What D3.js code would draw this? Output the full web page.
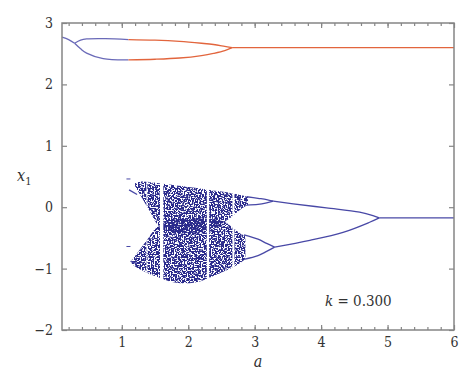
<!DOCTYPE html>
<html>
<head>
<meta charset="utf-8">
<script src="https://cdn.jsdelivr.net/npm/d3@7"></script>
<style>
  body { margin: 0; background: #fff; }
  text { font-stretch: condensed; }
</style>
</head>
<body>
<svg id="chart" width="474" height="383"></svg>
<script>
// axis ticks
const aTicks = [1, 2, 3, 4, 5, 6];
const xTicks = [-2, -1, 0, 1, 2, 3];

// upper attractor (a, x1)
const upperStem = [[0.10, 2.77], [0.20, 2.73], [0.29, 2.67]];
const upperBlueHi = [[0.29, 2.67], [0.38, 2.72], [0.47, 2.74], [0.75, 2.745], [1.10, 2.73]];
const upperBlueLo = [[0.29, 2.67], [0.38, 2.58], [0.47, 2.51], [0.72, 2.42], [1.10, 2.40]];
const upperRedHi = [[1.10, 2.73], [1.50, 2.72], [1.87, 2.70], [2.20, 2.67], [2.38, 2.65], [2.55, 2.62], [2.66, 2.60]];
const upperRedLo = [[1.10, 2.40], [1.50, 2.41], [1.87, 2.43], [2.20, 2.47], [2.38, 2.505], [2.55, 2.55], [2.66, 2.60]];
const upperFlat = [[2.66, 2.60], [6.0, 2.60]];

// lower attractor: period-doubling branches
const lowP1 = [[4.875, -0.174], [6.0, -0.174]];
const lowP2Hi = [[3.28, 0.098], [3.58, 0.054], [4.08, -0.011], [4.58, -0.08], [4.78, -0.136], [4.875, -0.174]];
const lowP2Lo = [[3.30, -0.65], [3.83, -0.54], [4.33, -0.41], [4.73, -0.245], [4.875, -0.174]];
const lowP4a = [[2.88, 0.17], [3.05, 0.145], [3.18, 0.125], [3.28, 0.098]];
const lowP4b = [[2.88, 0.035], [3.05, 0.045], [3.18, 0.07], [3.28, 0.098]];
const lowP4c = [[2.84, -0.45], [3.05, -0.52], [3.18, -0.59], [3.30, -0.65]];
const lowP4d = [[2.84, -0.85], [3.05, -0.79], [3.18, -0.72], [3.30, -0.65]];
const entryHi = [[1.11, 0.283], [1.23, 0.207]];
const entryLo = [[1.13, -0.88], [1.23, -0.924]];
const dashes = [[1.07, 1.13, 0.46], [1.07, 1.13, -0.64]];

// chaotic bands: [a, top, bottom]
const upperBand = [
  [1.20, 0.40, 0.34], [1.30, 0.42, 0.16], [1.42, 0.41, -0.06], [1.55, 0.39, -0.30],
  [1.70, 0.37, -0.40], [1.90, 0.345, -0.43], [2.10, 0.315, -0.41], [2.30, 0.285, -0.36],
  [2.50, 0.255, -0.27], [2.65, 0.23, -0.16], [2.78, 0.20, -0.04], [2.90, 0.17, 0.04]
];
const lowerBand = [
  [1.15, -0.86, -0.92], [1.25, -0.72, -1.00], [1.40, -0.50, -1.08], [1.55, -0.30, -1.14],
  [1.70, -0.22, -1.20], [1.95, -0.18, -1.24], [2.20, -0.18, -1.20], [2.40, -0.20, -1.11],
  [2.55, -0.24, -1.04], [2.70, -0.36, -0.96], [2.80, -0.44, -0.90], [2.86, -0.46, -0.84]
];
// periodic windows (white gaps)
const windows = [[1.37, 1.385], [1.575, 1.625], [2.28, 2.315], [2.665, 2.695]];

const W = 474, H = 383;
const margin = {left: 62, right: 20, top: 23, bottom: 53};
const serif = "DejaVu Serif Condensed, DejaVu Serif, serif";
const svg = d3.select("#chart");
const x = d3.scaleLinear().domain([0.1, 6]).range([margin.left, W - margin.right]);
const y = d3.scaleLinear().domain([-2, 3]).range([H - margin.bottom, margin.top]);

const blue = "#4848a6", lightBlue = "#6a6ab8", red = "#e2653d", navy = "#2a2a8c";

// speckle filters to mimic scattered points
const defs = svg.append("defs");
function speckle(id, seed) {
  const f = defs.append("filter").attr("id", id).attr("x", "-5%").attr("y", "-5%").attr("width", "110%").attr("height", "110%");
  f.append("feTurbulence").attr("type", "fractalNoise").attr("baseFrequency", 0.7)
    .attr("numOctaves", 1).attr("seed", seed).attr("result", "n");
  f.append("feColorMatrix").attr("in", "n").attr("type", "matrix")
    .attr("values", "0 0 0 0 0  0 0 0 0 0  0 0 0 0 0  14 0 0 0 -6.0").attr("result", "m");
  f.append("feComposite").attr("in", "SourceGraphic").attr("in2", "m").attr("operator", "in");
}
speckle("sp1", 3);
speckle("sp2", 11);

const line = d3.line().x(d => x(d[0])).y(d => y(d[1])).curve(d3.curveCatmullRom);
const area = d3.area().x(d => x(d[0])).y0(d => y(d[2])).y1(d => y(d[1])).curve(d3.curveCatmullRom);

const plot = svg.append("g");

// chaotic bands
const chaos = plot.append("g");
chaos.append("path").datum(upperBand).attr("d", area).attr("fill", navy).attr("filter", "url(#sp1)");
chaos.append("path").datum(lowerBand).attr("d", area).attr("fill", navy).attr("filter", "url(#sp2)");
chaos.selectAll("rect.win").data(windows).enter().append("rect")
  .attr("class", "win")
  .attr("x", d => x(d[0])).attr("width", d => x(d[1]) - x(d[0]))
  .attr("y", y(0.45)).attr("height", y(-1.27) - y(0.45))
  .attr("fill", "#fff");

// branches
const branches = [
  [upperStem, lightBlue], [upperBlueHi, lightBlue], [upperBlueLo, lightBlue],
  [upperRedHi, red], [upperRedLo, red], [upperFlat, red],
  [lowP1, blue], [lowP2Hi, blue], [lowP2Lo, blue],
  [lowP4a, blue], [lowP4b, blue], [lowP4c, blue], [lowP4d, blue],
  [entryHi, blue], [entryLo, blue]
];
plot.selectAll("path.br").data(branches).enter().append("path")
  .attr("class", "br")
  .attr("d", d => line(d[0]))
  .attr("fill", "none").attr("stroke", d => d[1]).attr("stroke-width", 1.3);
plot.selectAll("line.dash").data(dashes).enter().append("line")
  .attr("x1", d => x(d[0])).attr("x2", d => x(d[1]))
  .attr("y1", d => y(d[2])).attr("y2", d => y(d[2]))
  .attr("stroke", blue).attr("stroke-width", 1);

// frame and axes
const axisColor = "#858585";
const minorA = d3.range(2, 60).map(v => v / 10).filter(v => Math.round(v * 10) % 2 === 0);
function styleAxis(g) {
  g.select(".domain").remove();
  g.selectAll(".tick line").attr("stroke", axisColor).attr("stroke-width", 1.2);
  g.selectAll(".tick text").attr("font-size", "14px").attr("fill", "#333");
}
const bottom = svg.append("g").attr("transform", `translate(0,${y(-2)})`)
  .call(d3.axisBottom(x).tickValues(aTicks).tickSize(-5).tickPadding(7).tickFormat(d3.format("d")));
styleAxis(bottom);
svg.append("g").attr("transform", `translate(0,${y(-2)})`)
  .call(d3.axisBottom(x).tickValues(minorA).tickSize(-3).tickFormat(""))
  .call(styleAxis);
svg.append("g").attr("transform", `translate(0,${y(3)})`)
  .call(d3.axisTop(x).tickValues(aTicks).tickSize(-5).tickFormat(""))
  .call(styleAxis);
svg.append("g").attr("transform", `translate(0,${y(3)})`)
  .call(d3.axisTop(x).tickValues(minorA).tickSize(-3).tickFormat(""))
  .call(styleAxis);
const left = svg.append("g").attr("transform", `translate(${x(0.1)},0)`)
  .call(d3.axisLeft(y).tickValues(xTicks).tickSize(-5).tickPadding(9).tickFormat(d => d < 0 ? "\u2212" + Math.abs(d) : d));
styleAxis(left);
svg.append("g").attr("transform", `translate(${x(6)},0)`)
  .call(d3.axisRight(y).tickValues(xTicks).tickSize(-5).tickFormat(""))
  .call(styleAxis);
svg.append("rect")
  .attr("x", x(0.1)).attr("y", y(3))
  .attr("width", x(6) - x(0.1)).attr("height", y(-2) - y(3))
  .attr("fill", "none").attr("stroke", axisColor).attr("stroke-width", 1.5);

// labels
svg.append("text").attr("x", (x(0.1) + x(6)) / 2).attr("y", 367)
  .attr("text-anchor", "middle").attr("font-size", "16px").attr("font-style", "italic").text("a");
const yl = svg.append("text").attr("x", 17).attr("y", 181).attr("font-size", "16px");
yl.append("tspan").attr("font-style", "italic").text("x");
yl.append("tspan").attr("font-size", "11px").attr("dy", 4).text("1");
const kl = svg.append("text").attr("x", 325).attr("y", 306).attr("font-size", "15px");
kl.append("tspan").attr("font-style", "italic").text("k");
kl.append("tspan").text(" = 0.300");

svg.selectAll("g").attr("font-family", serif);
svg.selectAll("text").attr("font-family", serif).attr("fill", "#333");
</script>
</body>
</html>
